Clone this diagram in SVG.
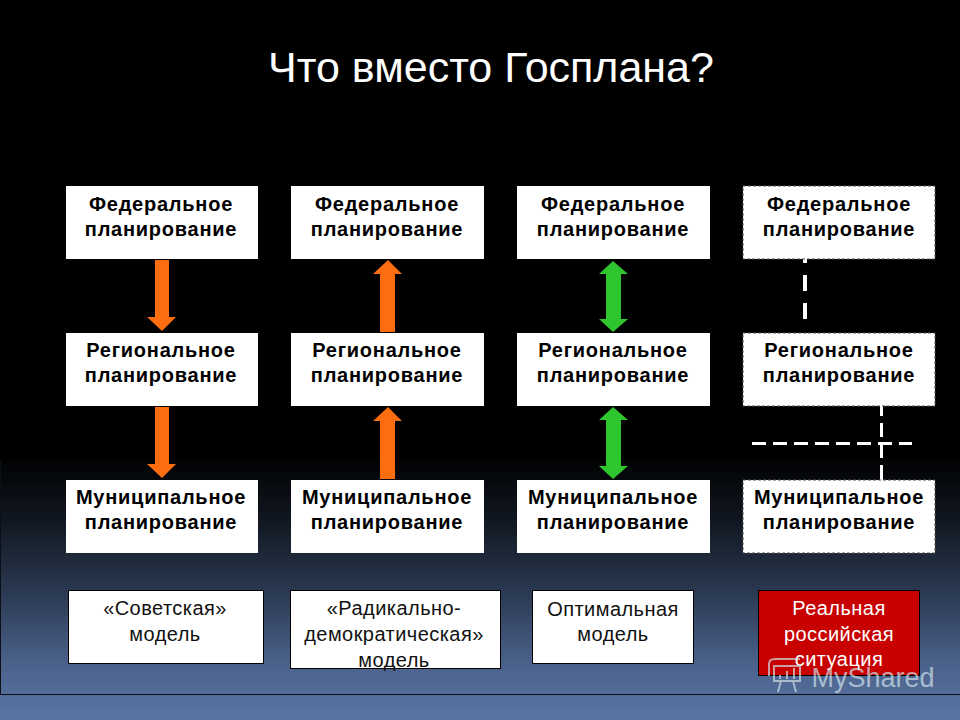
<svg xmlns="http://www.w3.org/2000/svg" width="960" height="720" viewBox="0 0 960 720">
<style>
text{font-family:"Liberation Sans",Arial,sans-serif;text-anchor:middle}
.n{fill:#fff}
.d{fill:#fff;stroke:#555;stroke-width:1;stroke-dasharray:3 2}
.b{font-size:20px;font-weight:700;fill:#000;letter-spacing:.75px}
.m{fill:#fff;stroke:#000;stroke-width:1}
.t{font-size:20px;fill:#111;letter-spacing:.45px}
.o{fill:#fb6d0e}
.g{fill:#2fc52f}
.w{stroke:#fff;stroke-width:3;fill:none}
</style>
<defs>
<linearGradient id="bg" x1="0" y1="0" x2="0" y2="1">
<stop offset="0" stop-color="#000"/>
<stop offset="0.63" stop-color="#000"/>
<stop offset="0.72" stop-color="#10161f"/>
<stop offset="0.82" stop-color="#2a3850"/>
<stop offset="0.92" stop-color="#4a618a"/>
<stop offset="1" stop-color="#5a75a5"/>
</linearGradient>
</defs>
<rect id="background" width="960" height="720" fill="url(#bg)"/>
<path d="M0.5 460V694.5H960" fill="none" stroke="#0b0f18" stroke-width="1"/>
<text id="title" x="491" y="82" style="font-size:43px" fill="#fff">Что вместо Госплана?</text>

<g id="connectors">
<path class="o" d="M155 260H169V317H176L162 331L147 317H155Z"/>
<path class="o" d="M155 407H169V464H176L162 478L147 464H155Z"/>
<path class="o" d="M380 332V274H373L388 260L402 274H395V332Z"/>
<path class="o" d="M380 479V421H373L388 407L402 421H395V479Z"/>
<path class="g" d="M613 261L628 274H621V319H628L613 332L599 319H606V274H599Z"/>
<path class="g" d="M613 407L628 420H621V466H628L613 479L599 466H606V420H599Z"/>
<path class="w" style="stroke-width:4" d="M805 259V263M805 275V291M805 303V319"/>
<path class="w" d="M881.500 405V416M881.500 423V437M881.500 444V458M881.500 465V480"/>
<path class="w" d="M752 443.500H912" stroke-dasharray="14 7"/>
</g>

<g id="col1-federal"><rect class="n" x="66" y="186" width="192" height="73"/><text class="b" x="161" y="211">Федеральное</text><text class="b" x="161" y="236">планирование</text></g>
<g id="col1-regional"><rect class="n" x="66" y="333" width="192" height="73"/><text class="b" x="161" y="357">Региональное</text><text class="b" x="161" y="382">планирование</text></g>
<g id="col1-municipal"><rect class="n" x="66" y="480" width="192" height="73"/><text class="b" x="161" y="504">Муниципальное</text><text class="b" x="161" y="529">планирование</text></g>

<g id="col2-federal"><rect class="n" x="291" y="186" width="193" height="73"/><text class="b" x="387" y="211">Федеральное</text><text class="b" x="387" y="236">планирование</text></g>
<g id="col2-regional"><rect class="n" x="291" y="333" width="193" height="73"/><text class="b" x="387" y="357">Региональное</text><text class="b" x="387" y="382">планирование</text></g>
<g id="col2-municipal"><rect class="n" x="291" y="480" width="193" height="73"/><text class="b" x="387" y="504">Муниципальное</text><text class="b" x="387" y="529">планирование</text></g>

<g id="col3-federal"><rect class="n" x="517" y="186" width="193" height="73"/><text class="b" x="613" y="211">Федеральное</text><text class="b" x="613" y="236">планирование</text></g>
<g id="col3-regional"><rect class="n" x="517" y="333" width="193" height="73"/><text class="b" x="613" y="357">Региональное</text><text class="b" x="613" y="382">планирование</text></g>
<g id="col3-municipal"><rect class="n" x="517" y="480" width="193" height="73"/><text class="b" x="613" y="504">Муниципальное</text><text class="b" x="613" y="529">планирование</text></g>

<g id="col4-federal"><rect class="d" x="743" y="186" width="192" height="73"/><text class="b" x="839" y="211">Федеральное</text><text class="b" x="839" y="236">планирование</text></g>
<g id="col4-regional"><rect class="d" x="743" y="333" width="192" height="73"/><text class="b" x="839" y="357">Региональное</text><text class="b" x="839" y="382">планирование</text></g>
<g id="col4-municipal"><rect class="d" x="743" y="480" width="192" height="73"/><text class="b" x="839" y="504">Муниципальное</text><text class="b" x="839" y="529">планирование</text></g>

<g id="model-soviet"><rect class="m" x="68.500" y="590.500" width="195" height="73"/><text class="t" x="165" y="615">«Советская»</text><text class="t" x="165" y="641">модель</text></g>
<g id="model-radical"><rect class="m" x="290.500" y="590.500" width="210" height="78"/><text class="t" x="394" y="615">«Радикально-</text><text class="t" x="394" y="641">демократическая»</text><text class="t" x="394" y="667">модель</text></g>
<g id="model-optimal"><rect class="m" x="532.500" y="590.500" width="161" height="73"/><text class="t" x="613" y="616">Оптимальная</text><text class="t" x="613" y="641">модель</text></g>
<g id="model-real"><rect x="758.500" y="590.500" width="161" height="85" fill="#c80000" stroke="#000"/><text class="t" x="839" y="615" style="fill:#fff">Реальная</text><text class="t" x="839" y="641" style="fill:#fff">российская</text><text class="t" x="839" y="666" style="fill:#fff">ситуация</text></g>

<g id="watermark" opacity="0.7" fill="none" stroke="#cfe0e8" stroke-width="2">
<path d="M769 676V664Q769 659 775 659H800M774 666H800V681H774Z"/>
<path d="M780 679V675M787 679V671M794 679V668M781 681L778 692M793 681L796 692"/>
<text x="873" y="687" style="font-size:27px;fill:#cfe0e8;stroke:none">MyShared</text>
</g>
</svg>
